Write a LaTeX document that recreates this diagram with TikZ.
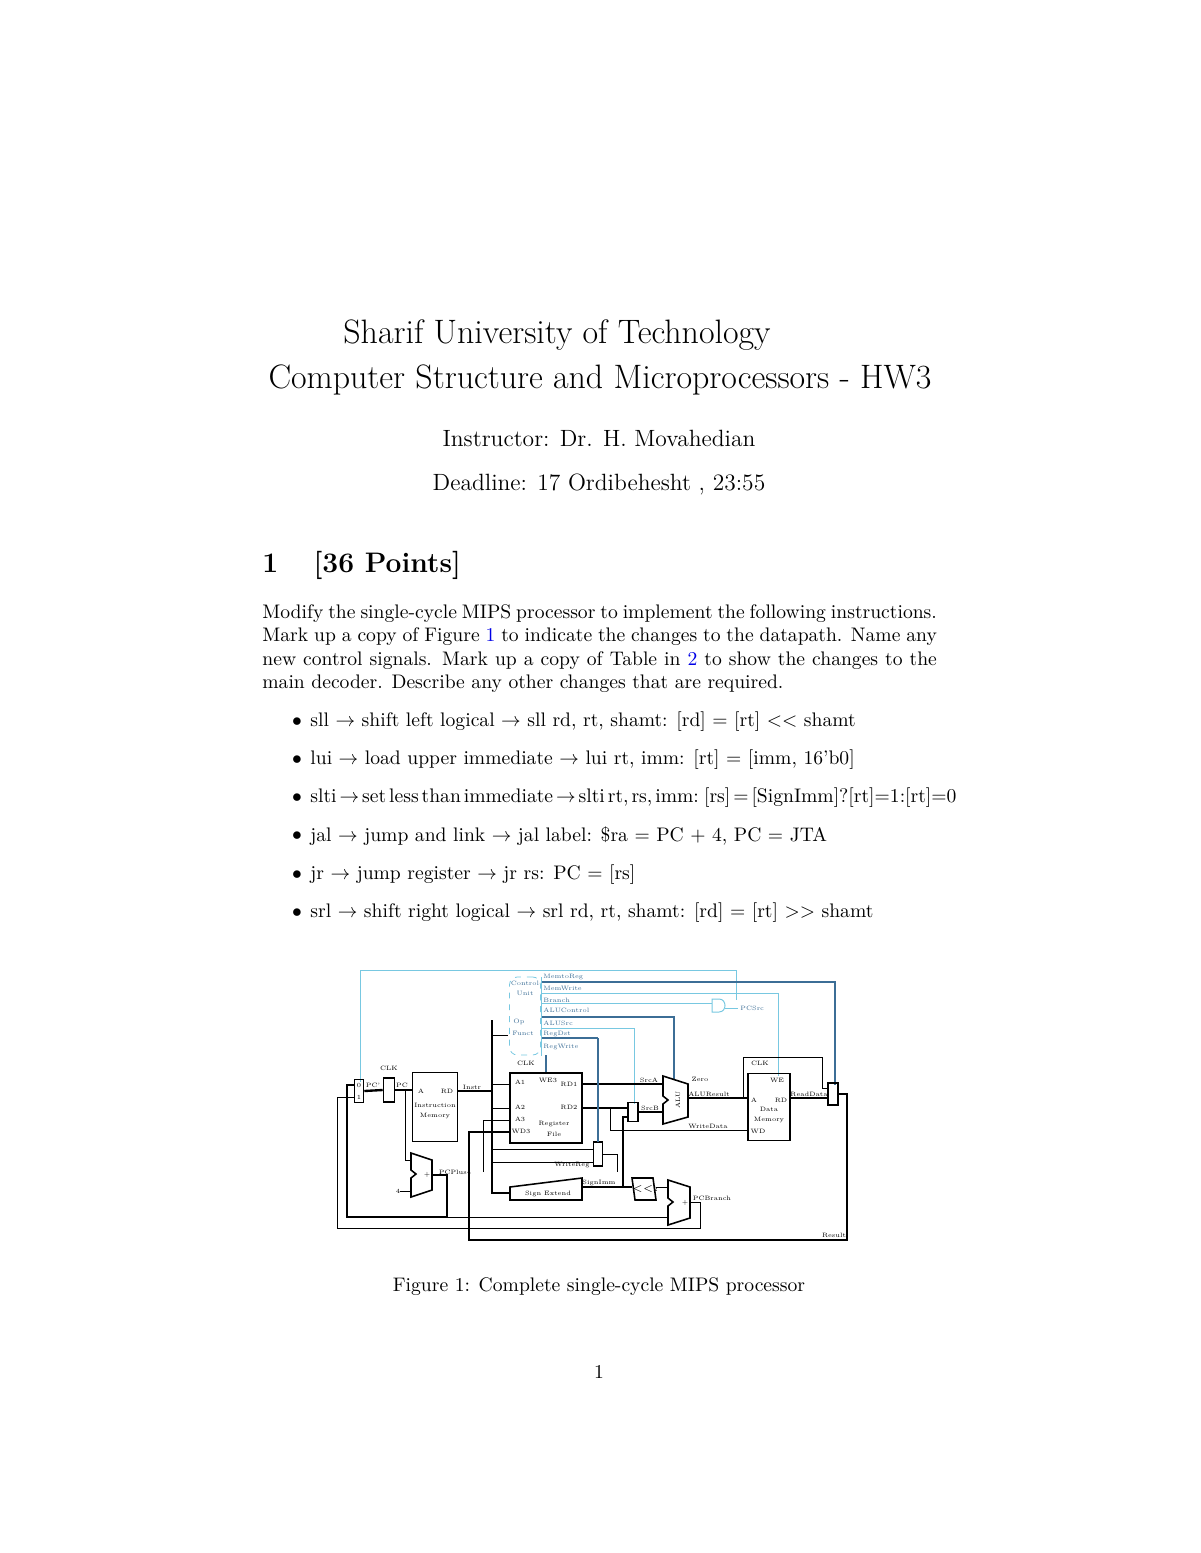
\documentclass[tikz,border=0pt]{standalone}
\usetikzlibrary{shapes.geometric}
\definecolor{lcy}{RGB}{120,200,225}
\definecolor{dbl}{RGB}{60,110,150}
\definecolor{lnk}{RGB}{0,0,230}
\tikzset{tx/.style={inner sep=0pt,font=\fontsize{10}{12}\selectfont},
 tiny/.style={inner sep=0pt,font=\fontsize{3.2}{3.6}\selectfont},
 blk/.style={draw,line width=0.8pt},
 bus/.style={line width=1.2pt},
 wire/.style={line width=0.5pt},
 cw/.style={draw=lcy,line width=0.5pt},
 bw/.style={draw=dbl,line width=0.7pt}}
\begin{document}
\begin{tikzpicture}[x=0.51pt,y=-0.51pt]
\useasboundingbox (0,0) rectangle (1200,1553);
% header
\node[inner sep=0pt,font=\fontsize{17.28}{20}\selectfont] (t1) at (557,335) {Sharif University of Technology};
\node[inner sep=0pt,font=\fontsize{17.28}{20}\selectfont] (t2) at (600,380) {Computer Structure and Microprocessors - HW3};
\node[inner sep=0pt,font=\fontsize{12}{14}\selectfont] (t3) at (599,438) {Instructor: Dr. H. Movahedian};
\node[inner sep=0pt,font=\fontsize{12}{14}\selectfont] (t4) at (599,484) {Deadline: 17 Ordibehesht , 23:55};
\node[anchor=west,inner sep=0pt,font=\fontsize{14.4}{17}\selectfont\bfseries] (sec) at (262,565) {1\hspace{18pt}[36 Points]};
\node[anchor=north west,tx,text width=344pt,align=justify] (par) at (262,604) {Modify the single-cycle MIPS processor to implement the following instructions. Mark up a copy of Figure {\color{lnk}1} to indicate the changes to the datapath. Name any new control signals. Mark up a copy of Table in {\color{lnk}2} to show the changes to the main decoder. Describe any other changes that are required.};
\foreach \y/\t [count=\i] in {722/{sll $\rightarrow$ shift left logical $\rightarrow$ sll rd, rt, shamt: [rd] = [rt] $<<$ shamt},
 760/{lui $\rightarrow$ load upper immediate $\rightarrow$ lui rt, imm: [rt] = [imm, 16'b0]},
 798/{\spaceskip=1.5pt plus 1pt slti $\rightarrow$ set less than immediate $\rightarrow$ slti rt, rs, imm: [rs] = [SignImm]?[rt]=1:[rt]=0},
 836/{jal $\rightarrow$ jump and link $\rightarrow$ jal label: \$ra = PC + 4, PC = JTA},
 875/{jr $\rightarrow$ jump register $\rightarrow$ jr rs: PC = [rs]},
 913/{srl $\rightarrow$ shift right logical $\rightarrow$ srl rd, rt, shamt: [rd] = [rt] $>>$ shamt}}{
 \node[tx] (b\i) at (297,\y) {$\bullet$};
 \node[tx,anchor=west] (bt\i) at (310,\y) {\t};
}
\node[tx] (cap) at (599,1287) {Figure 1: Complete single-cycle MIPS processor};
\node[tx] (pg) at (599,1372) {1};
% ---------- figure ----------
\draw[cw] (360,1082) -- (360,970) -- (736,970) -- (736,1000);
\draw[bw] (541,982) -- (835,982) -- (835,1085);
\draw[cw] (541,993) -- (778,993) -- (778,1076);
\draw[cw] (541,1003) -- (712,1003);
\draw[bw] (541,1017) -- (674,1017) -- (674,1080);
\draw[cw] (541,1028) -- (634,1028) -- (634,1104);
\draw[bw] (541,1038) -- (598,1038);
\draw[bw] (546,1055) -- (546,1074);
\draw[cw] (712,999) -- (719,999) .. controls (727,999) and (727,1012) .. (719,1012) -- (712,1012) -- cycle;
\draw[cw] (725,1008) -- (738,1008);
\node[tiny,text=dbl,anchor=west] (pcsrc) at (740,1008) {PCSrc};
\node[draw=lcy,dashed,rounded corners=4pt,minimum width=31*0.51pt,minimum height=78*0.51pt,inner sep=0pt] (cu) at (525,1016) {};
\node[tiny,text=dbl] (cut) at (525,988) {\shortstack{Control\\Unit}};
\node[tiny,text=dbl] (op) at (519,1022) {Op};
\node[tiny,text=dbl] (fu) at (523,1033) {Funct};
\foreach \y/\t in {977/MemtoReg,988/MemWrite,1000/Branch,1010/ALUControl,1023/ALUSrc,1034/RegDst,1047/RegWrite}
 \node[tiny,text=dbl,anchor=west] at (543,\y) {\t};
\draw[cw] (541,977) -- (541,1056);
\node[blk,minimum width=9*0.51pt,minimum height=23*0.51pt,inner sep=0pt] (pcmux) at (359,1091) {};
\node[tiny] at (359,1085) {0}; \node[tiny] at (359,1097) {1};
\node[blk,minimum width=11*0.51pt,minimum height=24*0.51pt,inner sep=0pt] (pcreg) at (389,1090) {};
\node[tiny] (clk1) at (389,1068) {CLK};
\node[tiny] at (373,1085) {PC'}; \node[tiny] at (402,1085) {PC};
\node[blk,minimum width=45*0.51pt,minimum height=69*0.51pt,inner sep=0pt] (im) at (435,1107) {};
\node[tiny] at (421,1091) {A}; \node[tiny] at (447,1091) {RD};
\node[tiny] at (435,1111) {\shortstack{Instruction\\Memory}};
\draw[bus] (pcmux.east) -- (pcreg.west);
\draw[bus] (pcreg.east) -- (im.west |- pcreg.east);
\draw[bus] (458,1091) -- (492,1091);
\node[tiny] at (472,1087) {Instr};
\draw[bus] (492,1020) -- (492,1193) -- (510,1193);
\draw[wire] (492,1035) -- (508,1035);
\draw[wire] (492,1084) -- (510,1084);
\draw[wire] (492,1108) -- (510,1108);
\draw[wire] (492,1149) -- (594,1149);
\draw[wire] (492,1162) -- (594,1162);
\node[blk,minimum width=72*0.51pt,minimum height=70*0.51pt,inner sep=0pt] (rf) at (546,1108) {};
\node[tiny] at (520,1082) {A1}; \node[tiny] at (548,1080) {WE3}; \node[tiny] at (569,1084) {RD1};
\node[tiny] at (520,1107) {A2}; \node[tiny] at (569,1107) {RD2};
\node[tiny] at (520,1119) {A3}; \node[tiny] at (521,1131) {WD3};
\node[tiny] at (554,1129) {\shortstack{Register\\File}};
\node[tiny] at (526,1063) {CLK};
\draw[blk] (663,1076) -- (688,1084) -- (688,1117) -- (663,1124) -- (663,1104) -- (668,1100) -- (663,1096) -- cycle;
\node[tiny,rotate=90] (alu) at (678,1100) {ALU};
\draw[bus] (582,1084) -- (663,1084);
\node[tiny] at (649,1080) {SrcA};
\node[blk,minimum width=10*0.51pt,minimum height=19*0.51pt,inner sep=0pt] (sbmux) at (633,1112) {};
\draw[bus] (582,1108) -- (628,1108);
\draw[bus] (638,1112) -- (663,1112);
\node[tiny] at (650,1108) {SrcB};
\draw[wire] (610,1108) -- (610,1130) -- (748,1130);
\node[tiny] at (708,1126) {WriteData};
\node[blk,minimum width=42*0.51pt,minimum height=67*0.51pt,inner sep=0pt] (dm) at (769,1107) {};
\node[tiny] at (760,1063) {CLK}; \node[tiny] at (777,1080) {WE};
\node[tiny] at (754,1100) {A}; \node[tiny] at (781,1100) {RD};
\node[tiny] at (769,1115) {\shortstack{Data\\Memory}}; \node[tiny] at (758,1131) {WD};
\draw[bus] (688,1098) -- (748,1098);
\node[tiny] at (709,1094) {ALUResult}; \node[tiny] at (700,1079) {Zero};
\draw[bus] (790,1098) -- (828,1098);
\node[tiny] at (809,1094) {ReadData};
\draw[wire] (743,1098) -- (743,1057) -- (822,1057) -- (822,1088) -- (828,1088);
\node[blk,minimum width=10*0.51pt,minimum height=22*0.51pt,inner sep=0pt] (rmux) at (833,1094) {};
\draw[bus] (838,1094) -- (847,1094) -- (847,1240) -- (469,1240) -- (469,1132) -- (510,1132);
\node[tiny] at (834,1235) {Result};
\node[blk,minimum width=9*0.51pt,minimum height=24*0.51pt,inner sep=0pt] (rdmux) at (598,1154) {};
\draw[bw] (598,1038) -- (598,1142);
\draw[wire] (603,1154) -- (617,1154) -- (617,1172);
\draw[wire] (483,1172) -- (483,1120) -- (510,1120);
\node[tiny] at (572,1165) {WriteReg};
\draw[blk] (510,1187) -- (582,1178) -- (582,1200) -- (510,1200) -- cycle;
\node[tiny] (se) at (548,1194) {Sign Extend};
\draw[bus] (582,1187) -- (632,1187);
\draw[bus] (623,1187) -- (623,1117) -- (628,1117);
\node[tiny] at (599,1183) {SignImm};
\draw[blk] (632,1178) -- (653,1178) -- (656,1200) -- (635,1200) -- cycle;
\node[tiny] (sh) at (645,1189) {$<<$2};
\draw[blk] (668,1180) -- (690,1187) -- (690,1218) -- (668,1225) -- (668,1206) -- (673,1202) -- (668,1198) -- cycle;
\draw[wire] (656,1187) -- (668,1187);
\node[tiny] at (685,1203) {+};
\draw[wire] (690,1202) -- (700,1202) -- (700,1228) -- (337,1228) -- (337,1097) -- (355,1097);
\node[tiny] at (712,1198) {PCBranch};
\draw[blk] (411,1153) -- (432,1160) -- (432,1190) -- (411,1197) -- (411,1178) -- (416,1174) -- (411,1170) -- cycle;
\node[tiny] at (427,1175) {+};
\draw[wire] (405,1090) -- (405,1160) -- (411,1160);
\draw[wire] (400,1191) -- (411,1191);
\node[tiny] at (398,1191) {4};
\draw[bus] (432,1175) -- (447,1175) -- (447,1217) -- (347,1217) -- (347,1085) -- (355,1085);
\draw[wire] (447,1217) -- (668,1217);
\node[tiny] at (455,1172) {PCPlus4};
\end{tikzpicture}
\end{document}
